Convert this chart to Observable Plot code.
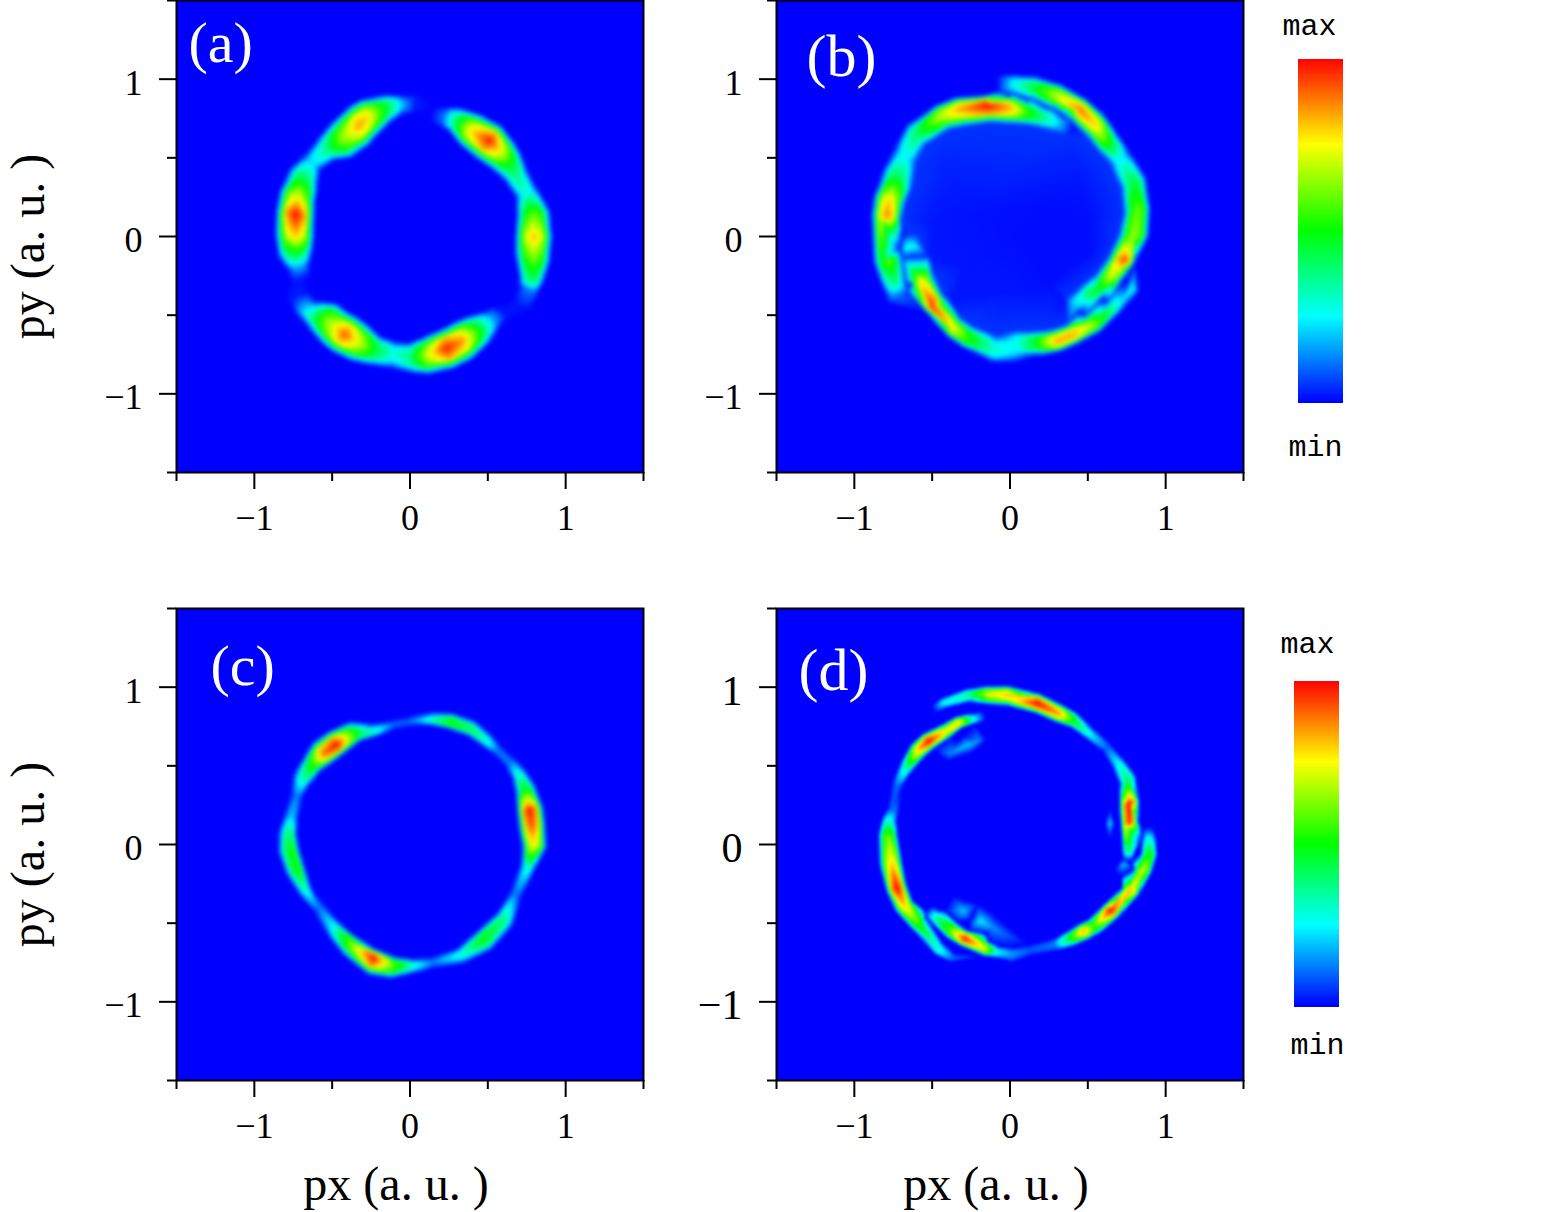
<!DOCTYPE html>
<html><head><meta charset="utf-8">
<script src="https://cdn.jsdelivr.net/npm/d3@7"></script>
<script src="https://cdn.jsdelivr.net/npm/@observablehq/plot@0.6"></script>
<style>
html,body{margin:0;padding:0;background:#fff}
#page{position:relative;width:1567px;height:1212px;overflow:hidden}
</style></head><body><div id="page"></div>
<script>
// Tick values and labels
const majorTicks = [-1, 0, 1];
const minorTicks = [-1.5, -0.5, 0.5, 1.5];
const xTitle = "px (a. u. )";
const yTitle = "py (a. u. )";
const colorStops = [0, 0.25, 0.5, 0.75, 1];
const colorNames = ["#0000ff", "#00ffff", "#00ff00", "#ffff00", "#ff0000"];

// Rows: [angle°, inner radius, ridge radius, outer radius, ridge level]
const ringA = [
[-24,.78,.84,.89,.12],[-20,.76,.83,.89,.4],[-10,.70,.807,.90,.62],[0,.69,.797,.90,.82],[10,.71,.805,.90,.6],
[20,.74,.80,.86,.28],[30,.72,.784,.85,.38],[36,.70,.794,.87,.5],[40.6,.69,.79,.88,.68],[50,.67,.795,.90,.98],
[61,.68,.777,.88,.75],[69.5,.73,.795,.86,.35],[74,.74,.79,.84,.12],[80,.76,.80,.84,0],[88,.80,.85,.90,.03],
[93,.80,.84,.88,.18],[100,.75,.835,.90,.45],[110,.68,.805,.91,.8],[115,.65,.78,.90,.85],[127,.64,.754,.86,.6],
[135,.70,.77,.84,.35],[143.5,.73,.785,.84,.22],[151,.69,.784,.87,.42],[161,.66,.767,.87,.75],[169,.64,.747,.86,1],
[180,.63,.733,.85,.8],[189,.65,.736,.84,.45],[195,.68,.74,.80,.18],[201,.70,.76,.82,.02],[208,.76,.82,.88,.03],
[214,.75,.813,.87,.2],[222,.65,.753,.86,.55],[230,.64,.749,.87,.75],[236,.63,.752,.87,.92],[245,.64,.75,.86,.7],
[253.5,.68,.752,.84,.45],[262,.69,.751,.83,.28],[270,.69,.765,.85,.38],[278,.66,.76,.87,.7],[288,.64,.75,.87,.98],
[297.5,.63,.74,.86,.85],[308,.65,.736,.83,.45],[315,.69,.74,.80,.18],[321,.72,.77,.82,.02],[328,.78,.83,.88,.02]
];

const spiralB1 = [
[-47,.55,.594,.65,.2],[-34,.57,.643,.70,.45],[-22,.62,.703,.76,.7],[-11.5,.66,.754,.81,.95],[0,.71,.80,.88,.65],
[11.5,.76,.84,.91,.6],[23,.79,.87,.94,.45],[35,.80,.859,.93,.25],[44,.80,.86,.94,.55],[52,.82,.896,.97,.8],
[61,.85,.925,.99,.9],[71.5,.88,.944,1.01,.7],[81,.90,.96,1.02,.45],[89,.92,.97,1.02,.25],[95,.93,.97,1.01,0]
];
const spiralB2 = [
[-23,.82,.85,.90,.25],[-34,.755,.80,.86,.35],[-46,.70,.775,.84,.65],[-57,.67,.745,.81,.85],[-66,.65,.732,.80,.85],
[-76,.62,.70,.78,.5],[-86,.60,.67,.80,.28],[-98,.64,.73,.81,.3],[-113,.62,.704,.77,.55],[-121.5,.61,.696,.755,.75],
[-139,.57,.664,.725,.97],[-154,.55,.643,.70,.75],[-174,.57,.646,.71,.3],[-181,.60,.64,.69,.05]
];
const spiralB3 = [
[-152,.75,.82,.89,.1],[-157.6,.74,.80,.87,.35],[-169,.72,.797,.88,.6],[171,.72,.80,.89,.88],[163.5,.72,.815,.90,.8],
[152,.72,.82,.91,.42],[143,.77,.85,.92,.25],[133,.81,.883,.96,.4],[120,.80,.889,.95,.7],[111.5,.77,.874,.94,.85],
[100,.75,.848,.90,1],[90,.73,.82,.88,.85],[82,.73,.795,.86,.55],[72.7,.73,.79,.84,.35],[66,.74,.78,.83,.2],[60,.75,.78,.81,.02]
];
const hazeB = 0.05;
const hazeBX = [0.01, 0.01, -0.15, 0.2, -0.3, 0.25, 0.02, 0.5, -0.5, 0.45, -0.4, 0.35, -0.38, 0.52, -0.52];
const hazeBY = [0.02, 0.42, 0.15, 0.2, -0.2, -0.3, -0.35, 0.1, 0.08, 0.35, 0.4, -0.4, -0.42, -0.1, -0.12];
const hazeBV = [0.012, 0.035, 0.015, 0.012, 0.02, 0.012, 0.02, 0.012, 0.02, 0.02, 0.03, 0.012, 0.02, 0.012, 0.02];

const ringC = [
[-11,.72,.774,.82,.3],[-1,.72,.793,.88,.75],[8,.705,.79,.88,.92],[16,.715,.797,.89,1],[25,.75,.816,.89,.5],
[32.5,.78,.825,.88,.3],[39,.79,.825,.87,.12],[47,.785,.82,.855,.12],[53,.78,.82,.87,.3],[62,.785,.827,.89,.42],
[71.7,.775,.816,.88,.52],[80.7,.77,.796,.85,.3],[91,.75,.775,.81,.1],[98,.74,.765,.80,.1],[106.5,.72,.752,.80,.3],
[116,.73,.78,.87,.5],[126.5,.715,.79,.89,1],[134,.72,.798,.90,.9],[140.7,.74,.80,.88,.55],[150,.75,.794,.87,.3],
[157,.75,.79,.83,.12],[167,.74,.78,.83,.2],[175,.73,.774,.85,.4],[183,.71,.76,.85,.5],[193,.69,.736,.82,.5],
[204,.69,.727,.78,.3],[215,.67,.705,.75,.12],[226,.67,.71,.78,.25],[238,.68,.727,.82,.6],[252,.70,.76,.87,1],
[262,.72,.774,.86,.6],[271.6,.73,.767,.82,.3],[281,.73,.76,.80,.12],[294.6,.73,.772,.83,.28],[308,.70,.76,.85,.5],
[322,.71,.76,.84,.38],[335,.71,.745,.79,.12]
];

const stripD1 = [
[120,.95,.98,1.01,0],[115.5,.96,.996,1.03,.25],[106,.94,.987,1.03,.35],[99,.90,.968,1.02,.7],[91,.88,.953,1.01,.82],
[79,.85,.916,.98,1],[69,.83,.889,.95,.85],[62.6,.84,.885,.94,.5],[53.7,.83,.868,.91,.25],[44.7,.84,.873,.91,.1],
[36.7,.82,.867,.91,.25],[28.4,.80,.864,.92,.4],[18.8,.74,.81,.88,1],[9.8,.72,.778,.84,.95],[-3,.72,.761,.81,.4],[-8,.72,.75,.79,0]
];
const stripD2 = [
[7,.85,.88,.92,0],[3,.85,.89,.94,.25],[-4,.84,.897,.95,.5],[-11,.81,.872,.93,.7],[-21,.77,.826,.89,.85],
[-33,.71,.77,.84,1],[-44,.69,.747,.81,.55],[-49.5,.67,.726,.79,.85],[-59,.66,.707,.76,.4],[-66,.66,.696,.74,.12],
[-79,.65,.683,.72,.08],[-89,.66,.692,.75,.15]
];
const stripD3 = [
[-97,.65,.69,.73,.25],[-103,.63,.683,.73,.7],[-116,.61,.666,.72,.98],[-125,.60,.665,.72,.6],[-137,.62,.664,.71,.3],[-142,.62,.655,.69,0]
];
const stripD4 = [
[-117,.78,.81,.84,.1],[-124.5,.76,.813,.85,.3],[-139,.72,.77,.83,.55],[-150,.72,.78,.85,.8],[-159,.71,.778,.85,1],
[-172,.70,.767,.85,.78],[176,.72,.783,.85,.6],[169,.74,.797,.84,.3],[164,.74,.78,.82,.12],[153,.78,.816,.85,.1]
];
const stripD5 = [
[145,.78,.825,.87,.3],[135,.78,.843,.90,.8],[128.6,.78,.84,.90,1],[119.4,.78,.828,.88,.75],[113,.80,.84,.885,.8],[106.6,.80,.826,.87,.3],[101,.79,.82,.86,0]
];
// Faint patches inside panel (d)
const patchDX = [.642,.642,.642,.61,.675, -.28,-.38,-.2,-.45,-.15,-.3,-.4,-.25,-.33, -.30,-.193,-.107,-.37,-.2,-.1,-.42,-.26,-.16, .73,.68,.67,.72];
const patchDY = [.133,.23,.03,.13,.13, .63,.58,.655,.56,.67,.69,.53,.58,.66, -.424,-.488,-.531,-.33,-.38,-.45,-.42,-.49,-.57, -.12,-.05,-.17,-.2];
const patchDV = [.22,0,0,0,0, .2,.14,.14,0,0,0,0,0,0, .2,.24,.14,0,0,0,0,0,0, .2,0,0,0];

const farX = [-1.5,0,1.5,-1.5,1.5,-1.5,0,1.5,0,-1.1,1.1,-1.1,1.1];
const farY = [-1.5,-1.5,-1.5,0,0,1.5,1.5,1.5,0,-1.1,-1.1,1.1,1.1];

// Cross-section of a band: halfway from ridge to edge the level is still this share of the ridge
const shoulderShare = 0.84;
const spreadA = 0.018;
const spreadB = 0.012;

const rad = Math.PI / 180;
function ringSamples(rows, innerValue = 0, spread = 0) {
  return rows.flatMap(([a, i0, r, o0, v]) => {
    const i = i0 - spread, o = o0 + spread;
    const c = Math.cos(a * rad), s = Math.sin(a * rad);
    const si = (i + r) / 2, so = (o + r) / 2;
    return [
      {x: i * c, y: i * s, v: Math.min(innerValue, v + innerValue / 2)},
      {x: si * c, y: si * s, v: innerValue + (v - innerValue) * shoulderShare},
      {x: r * c, y: r * s, v},
      {x: so * c, y: so * s, v: v * shoulderShare},
      {x: o * c, y: o * s, v: 0}
    ];
  });
}
const listSamples = (xs, ys, vs) => xs.map((x, i) => ({x, y: ys[i], v: vs ? vs[i] : 0}));
const far = listSamples(farX, farY);
const far2 = far.filter(d => d.x !== 0 || d.y !== 0);

const colorScale = {type: "linear", domain: colorStops, range: colorNames, clamp: true};
const serif = "'Liberation Serif', serif";
const page = document.getElementById("page");

function panel({samples, left, top, tag, tagDx, tagDy, tagFont = 58, blur, showY, showX, yFont = 36}) {
  const marks = [
    Plot.raster(samples, {x: "x", y: "y", fill: "v", interpolate: "barycentric", blur}),
    Plot.frame({stroke: "#000", strokeWidth: 2}),
    Plot.axisX({ticks: majorTicks, tickSize: 17, tickPadding: 15, fontSize: 36, label: null, tickFormat: d3.format("d"), strokeWidth: 2}),
    Plot.axisX({ticks: minorTicks, tickSize: 9, tickFormat: () => "", label: null, strokeWidth: 2}),
    Plot.axisY({ticks: majorTicks, tickSize: 17, tickFormat: () => "", label: null, strokeWidth: 2}),
    Plot.axisY({ticks: majorTicks, tickSize: 0, tickPadding: 34, dy: 4, fontSize: yFont, label: null, tickFormat: d3.format("d")}),
    Plot.axisY({ticks: minorTicks, tickSize: 9, tickFormat: () => "", label: null, strokeWidth: 2}),
    Plot.text([tag], {frameAnchor: "top-left", dx: tagDx, dy: tagDy, fill: "#fff", fontSize: tagFont, textAnchor: "start", lineAnchor: "middle"})
  ];
  if (showY) marks.push(Plot.text([yTitle], {frameAnchor: "left", dx: -148, dy: 10, rotate: -90, textAnchor: "middle", fontSize: 48, letterSpacing: 4}));
  if (showX) marks.push(Plot.text([xTitle], {frameAnchor: "bottom", dx: -14, dy: 119, fontSize: 48, letterSpacing: 4}));
  const svg = Plot.plot({
    width: 660, height: 604, marginLeft: 176, marginRight: 17, marginTop: 0, marginBottom: 132,
    style: {fontFamily: serif, background: "transparent", color: "#000", overflow: "visible"},
    x: {domain: [-1.5, 1.5]}, y: {domain: [-1.5, 1.5]},
    color: colorScale, marks
  });
  svg.style.position = "absolute"; svg.style.left = left + "px"; svg.style.top = top + "px";
  page.appendChild(svg);
}

panel({samples: [...ringSamples(ringA, 0, spreadA), ...far], left: 0, top: 0, tag: "(a)", tagDx: 12, tagDy: 43, blur: 1.5, showY: true});
panel({samples: [...ringSamples(spiralB1, hazeB, spreadB), ...ringSamples(spiralB2, hazeB), ...ringSamples(spiralB3, hazeB, spreadB), ...listSamples(hazeBX, hazeBY, hazeBV), ...far2],
  left: 600, top: 0, tag: "(b)", tagDx: 30, tagDy: 56, tagFont: 60, blur: 1.5});
panel({samples: [...ringSamples(ringC), ...far], left: 0, top: 608, tag: "(c)", tagDx: 34, tagDy: 58, blur: 1.5, showY: true, showX: true});
panel({samples: [...ringSamples(stripD1), ...ringSamples(stripD2), ...ringSamples(stripD3), ...ringSamples(stripD4), ...ringSamples(stripD5), ...listSamples(patchDX, patchDY, patchDV), ...far],
  left: 600, top: 608, tag: "(d)", tagDx: 22, tagDy: 62, tagFont: 60, blur: 1, showX: true, yFont: 42});

const barLevels = d3.range(0, 1, 0.005);
function colorbar({top, marginLeft, marginRight, marginTop, marginBottom, maxDx, maxDy, minDx, minDy}) {
  const svg = Plot.plot({
    width: 100, height: 470, marginLeft, marginRight, marginTop, marginBottom,
    style: {fontFamily: "'Liberation Mono', monospace", background: "transparent", color: "#000", overflow: "visible"},
    x: {axis: null, domain: [0, 1]}, y: {axis: null, domain: [0, 1]},
    color: colorScale,
    marks: [
      Plot.rect(barLevels, {x1: 0, x2: 1, y1: d => d, y2: d => Math.min(1, d + 0.008), fill: d => d, shapeRendering: "crispEdges"}),
      Plot.text(["max"], {frameAnchor: "top-left", dx: maxDx, dy: maxDy, fontSize: 30, textAnchor: "start"}),
      Plot.text(["min"], {frameAnchor: "bottom-left", dx: minDx, dy: minDy, fontSize: 30, textAnchor: "start"})
    ]
  });
  svg.style.position = "absolute"; svg.style.left = "1260px"; svg.style.top = top + "px";
  page.appendChild(svg);
}
colorbar({top: 0, marginLeft: 38, marginRight: 17, marginTop: 59, marginBottom: 67, maxDx: -16, maxDy: -46, minDx: -10, minDy: 52});
colorbar({top: 608, marginLeft: 34, marginRight: 21, marginTop: 73, marginBottom: 71, maxDx: -14, maxDy: -50, minDx: -4, minDy: 46});
</script></body></html>
